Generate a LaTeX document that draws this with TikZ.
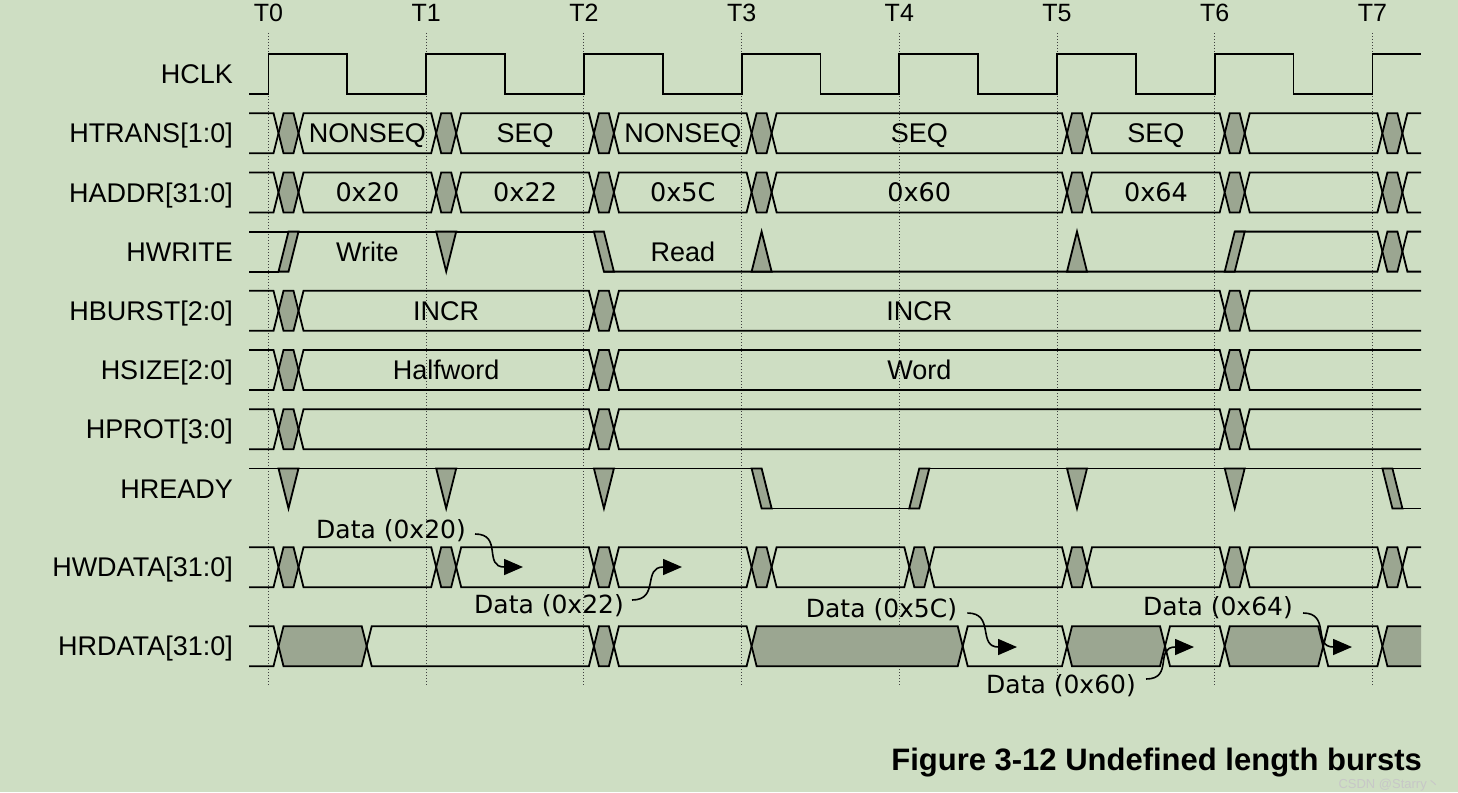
\documentclass[tikz,border=0pt]{standalone}
\usepackage{fontspec}
\setmainfont{Liberation Sans}
\newfontfamily\dvs{DejaVu Sans}
\newfontfamily\cjkf{Noto Sans CJK SC}
\usetikzlibrary{arrows.meta}
\definecolor{bgc}{RGB}{206,222,195}
\definecolor{gfill}{RGB}{155,166,145}
\def\hh{20}
\def\dd{5}
\def\Sx{249}
\def\Ex{1421}
\newcommand\bxseg[3]{\draw[wv] (#1,#3) -- ({#1+\dd},{#3-\hh}) -- ({#2-\dd},{#3-\hh}) -- (#2,#3) -- ({#2-\dd},{#3+\hh}) -- ({#1+\dd},{#3+\hh}) -- cycle;}
\newcommand\gxseg[3]{\filldraw[wv,fill=gfill] (#1,#3) -- ({#1+\dd},{#3-\hh}) -- ({#2-\dd},{#3-\hh}) -- (#2,#3) -- ({#2-\dd},{#3+\hh}) -- ({#1+\dd},{#3+\hh}) -- cycle;}
\newcommand\bxstart[2]{\draw[wv] (\Sx,{#2-\hh}) -- ({#1-\dd},{#2-\hh}) -- (#1,#2) -- ({#1-\dd},{#2+\hh}) -- (\Sx,{#2+\hh});}
\newcommand\bxend[2]{\draw[wv] (\Ex,{#2-\hh}) -- ({#1+\dd},{#2-\hh}) -- (#1,#2) -- ({#1+\dd},{#2+\hh}) -- (\Ex,{#2+\hh});}
\newcommand\gxend[2]{\fill[gfill] (\Ex,{#2-\hh}) -- ({#1+\dd},{#2-\hh}) -- (#1,#2) -- ({#1+\dd},{#2+\hh}) -- (\Ex,{#2+\hh}) -- cycle; \bxend{#1}{#2}}
\newcommand\busrow[3]{%
  \foreach \t [count=\i, remember=\t as \lt (initially 0)] in {#2}{%
    \ifnum\i=1\relax \bxstart{\t+10}{#1}\else \bxseg{\lt+30}{\t+10}{#1}\fi
    \gxseg{\t+10}{\t+30}{#1}%
  }%
  \bxend{#3+30}{#1}%
}
\newcommand\bandup[2]{\filldraw[wv,fill=gfill] ({#1+10},{#2+\hh}) -- ({#1+20},{#2+\hh}) -- ({#1+30},{#2-\hh}) -- ({#1+20},{#2-\hh}) -- cycle;}
\newcommand\banddn[2]{\filldraw[wv,fill=gfill] ({#1+10},{#2-\hh}) -- ({#1+20},{#2-\hh}) -- ({#1+30},{#2+\hh}) -- ({#1+20},{#2+\hh}) -- cycle;}
\newcommand\vtri[2]{\filldraw[wv,fill=gfill] ({#1+10},{#2-\hh}) -- ({#1+30},{#2-\hh}) -- ({#1+20},{#2+\hh}) -- cycle;}
\newcommand\atri[2]{\filldraw[wv,fill=gfill] ({#1+10},{#2+\hh}) -- ({#1+30},{#2+\hh}) -- ({#1+20},{#2-\hh}) -- cycle;}
\begin{document}
\begin{tikzpicture}[x=1pt,y=-1pt,
  wv/.style={line width=1.8pt, line join=miter},
  sig/.style={anchor=east, inner sep=0pt, font=\fontsize{27}{30}\selectfont, text height=19.3pt, text depth=0pt},
  val/.style={inner sep=0pt, font=\fontsize{27}{30}\selectfont, text height=19.3pt, text depth=0pt},
  hexv/.style={inner sep=0pt, font=\dvs\fontsize{25.5}{28}\selectfont, text height=18.6pt, text depth=0pt},
  tlab/.style={inner sep=0pt, font=\fontsize{25}{27}\selectfont, text height=17.9pt, text depth=0pt},
  dlab/.style={inner sep=0pt, font=\dvs\fontsize{25}{28}\selectfont, text height=18.2pt, text depth=0pt},
  darr/.style={line width=1.6pt, -{Triangle[length=19pt,width=16pt]}},
  tline/.style={line width=0.9pt, black!75, dash pattern=on 1pt off 2pt}]
\useasboundingbox (0,0) rectangle (1458,792);
\fill[bgc] (0,0) rectangle (1458,792);
% time markers
\foreach \t/\n in {268.5/0,426.2/1,583.9/2,741.6/3,899.3/4,1057.0/5,1214.7/6,1372.4/7}{
  \draw[tline] (\t,33) -- (\t,685);
  \node[tlab] (T\n) at (\t,13) {T\n};
}
% signal names
\node[sig] (nclk) at (233,74) {HCLK};
\node[sig] (ntr) at (233,133.2) {HTRANS[1:0]};
\node[sig] (nad) at (233,192.4) {HADDR[31:0]};
\node[sig] (nwr) at (233,251.6) {HWRITE};
\node[sig] (nbu) at (233,310.8) {HBURST[2:0]};
\node[sig] (nsz) at (233,370) {HSIZE[2:0]};
\node[sig] (npr) at (233,429.2) {HPROT[3:0]};
\node[sig] (nrdy) at (233,488.4) {HREADY};
\node[sig] (nwd) at (233,567.2) {HWDATA[31:0]};
\node[sig] (nrd) at (233,646.2) {HRDATA[31:0]};
% clock
\draw[wv] (\Sx,94) \foreach \t in {268.5,426.2,583.9,741.6,899.3,1057.0,1214.7}{ -- (\t,94) -- (\t,54) -- ({\t+78.85},54) -- ({\t+78.85},94)} -- (1372.4,94) -- (1372.4,54) -- (\Ex,54);
% buses
\busrow{133.2}{268.5,426.2,583.9,741.6,1057.0,1214.7,1372.4}{1372.4}
\busrow{192.4}{268.5,426.2,583.9,741.6,1057.0,1214.7,1372.4}{1372.4}
\busrow{310.8}{268.5,583.9,1214.7}{1214.7}
\busrow{370}{268.5,583.9,1214.7}{1214.7}
\busrow{429.2}{268.5,583.9,1214.7}{1214.7}
\busrow{567.2}{268.5,426.2,583.9,741.6,899.3,1057.0,1214.7,1372.4}{1372.4}
% HWRITE
\draw[wv] (\Sx,231.6) -- (593.9,231.6);
\draw[wv] (\Sx,271.6) -- (278.5,271.6);
\bandup{268.5}{251.6}
\vtri{426.2}{251.6}
\draw[wv] (603.9,271.6) -- (1377.4,271.6) -- (1382.4,251.6);
\banddn{583.9}{251.6}
\atri{741.6}{251.6}
\atri{1057.0}{251.6}
\draw[wv] (1234.7,231.6) -- (1377.4,231.6) -- (1382.4,251.6);
\bandup{1214.7}{251.6}
\gxseg{1382.4}{1402.4}{251.6}
\bxend{1402.4}{251.6}
% HREADY
\draw[wv] (\Sx,468.4) -- (761.6,468.4);
\vtri{268.5}{488.4}
\vtri{426.2}{488.4}
\vtri{583.9}{488.4}
\draw[wv] (761.6,508.4) -- (919.3,508.4);
\banddn{741.6}{488.4}
\draw[wv] (919.3,468.4) -- (\Ex,468.4);
\bandup{899.3}{488.4}
\vtri{1057.0}{488.4}
\vtri{1214.7}{488.4}
\draw[wv] (1392.4,508.4) -- (\Ex,508.4);
\banddn{1372.4}{488.4}
% HRDATA
\bxstart{278.5}{646.2}
\gxseg{278.5}{366.7}{646.2}
\bxseg{366.7}{593.9}{646.2}
\gxseg{593.9}{613.9}{646.2}
\bxseg{613.9}{751.6}{646.2}
\gxseg{751.6}{962.7}{646.2}
\bxseg{962.7}{1067.0}{646.2}
\gxseg{1067.0}{1165}{646.2}
\bxseg{1165}{1224.7}{646.2}
\gxseg{1224.7}{1323.2}{646.2}
\bxseg{1323.2}{1382.4}{646.2}
\gxend{1382.4}{646.2}
% values
\node[val] (tr1) at (367.4,133.2) {NONSEQ};
\node[val] (tr2) at (525.1,133.2) {SEQ};
\node[val] (tr3) at (682.8,133.2) {NONSEQ};
\node[val] (tr4) at (919.3,133.2) {SEQ};
\node[val] (tr5) at (1155.9,133.2) {SEQ};
\node[hexv] (ad1) at (367.4,192.4) {0x20};
\node[hexv] (ad2) at (525.1,192.4) {0x22};
\node[hexv] (ad3) at (682.8,192.4) {0x5C};
\node[hexv] (ad4) at (919.3,192.4) {0x60};
\node[hexv] (ad5) at (1155.9,192.4) {0x64};
\node[val] (wr1) at (367.4,251.6) {Write};
\node[val] (wr2) at (682.8,251.6) {Read};
\node[val] (bu1) at (446.2,310.8) {INCR};
\node[val] (bu2) at (919.3,310.8) {INCR};
\node[val] (sz1) at (446.2,370) {Halfword};
\node[val] (sz2) at (919.3,370) {Word};
% data annotations
\node[dlab] (d20) at (391,529) {Data (0x20)};
\node[dlab] (d22) at (549,604) {Data (0x22)};
\node[dlab] (d5C) at (881.5,608) {Data (0x5C)};
\node[dlab] (d60) at (1061,684) {Data (0x60)};
\node[dlab] (d64) at (1218,606) {Data (0x64)};
\coordinate (w20) at (523,567);
\coordinate (w22) at (682,567);
\coordinate (r5C) at (1017,647);
\coordinate (r60) at (1194,647);
\coordinate (r64) at (1352,647);
\draw[darr] ([shift={(9,5)}]d20.east) .. controls +(28,0) and +(-40,0) .. (w20);
\draw[darr] ([shift={(8,-4)}]d22.east) .. controls +(28,0) and +(-40,0) .. (w22);
\draw[darr] ([shift={(10,5)}]d5C.east) .. controls +(28,0) and +(-40,0) .. (r5C);
\draw[darr] ([shift={(10,-5)}]d60.east) .. controls +(28,0) and +(-40,0) .. (r60);
\draw[darr] ([shift={(10,7)}]d64.east) .. controls +(28,0) and +(-40,0) .. (r64);
% caption
\node[anchor=base east, inner sep=0pt, font=\bfseries\fontsize{31}{34}\selectfont] (cap) at (1422,770) {Figure 3-12 Undefined length bursts};
\node[anchor=east, inner sep=0pt, font=\fontsize{13}{15}\selectfont, text=black!22] (wm) at (1440,785) {CSDN @Starry{\cjkf 丶}};
\end{tikzpicture}
\end{document}
